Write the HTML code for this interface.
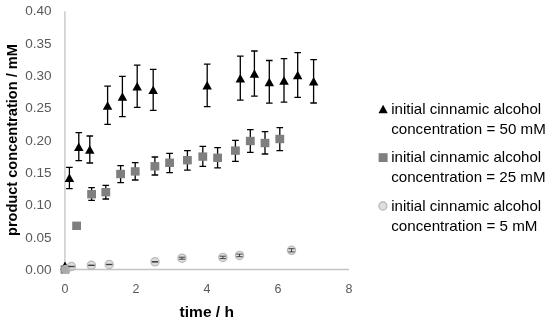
<!DOCTYPE html>
<html><head><meta charset="utf-8"><title>chart</title>
<style>
html,body{margin:0;padding:0;background:#fff}
svg{display:block}
text{font-family:"Liberation Sans",sans-serif}
</style></head><body>
<svg width="550" height="325" viewBox="0 0 550 325">
<rect width="550" height="325" fill="#fff"/>
<path d="M64.9 11.2V270M64.3 269.5H349" fill="none" stroke="#c4c4c4" stroke-width="1.3"/>
<g font-size="12.5" fill="#595959">
<text x="51.6" y="273.9" text-anchor="end" textLength="26.4" lengthAdjust="spacingAndGlyphs">0.00</text>
<text x="51.6" y="241.6" text-anchor="end" textLength="26.4" lengthAdjust="spacingAndGlyphs">0.05</text>
<text x="51.6" y="209.3" text-anchor="end" textLength="26.4" lengthAdjust="spacingAndGlyphs">0.10</text>
<text x="51.6" y="176.9" text-anchor="end" textLength="26.4" lengthAdjust="spacingAndGlyphs">0.15</text>
<text x="51.6" y="144.6" text-anchor="end" textLength="26.4" lengthAdjust="spacingAndGlyphs">0.20</text>
<text x="51.6" y="112.3" text-anchor="end" textLength="26.4" lengthAdjust="spacingAndGlyphs">0.25</text>
<text x="51.6" y="80.0" text-anchor="end" textLength="26.4" lengthAdjust="spacingAndGlyphs">0.30</text>
<text x="51.6" y="47.7" text-anchor="end" textLength="26.4" lengthAdjust="spacingAndGlyphs">0.35</text>
<text x="51.6" y="15.3" text-anchor="end" textLength="26.4" lengthAdjust="spacingAndGlyphs">0.40</text>
<text x="65.0" y="293.1" text-anchor="middle">0</text>
<text x="136.0" y="293.1" text-anchor="middle">2</text>
<text x="207.0" y="293.1" text-anchor="middle">4</text>
<text x="278.0" y="293.1" text-anchor="middle">6</text>
<text x="349.0" y="293.1" text-anchor="middle">8</text>
</g>
<text x="206.8" y="317" text-anchor="middle" font-size="14.6" font-weight="bold" fill="#000" textLength="54.4" lengthAdjust="spacingAndGlyphs">time / h</text>
<text transform="translate(16.6 140.1) rotate(-90)" text-anchor="middle" font-size="14.6" font-weight="bold" fill="#000" textLength="191.8" lengthAdjust="spacingAndGlyphs">product concentration / mM</text>
<g fill="none" stroke="#000" stroke-width="1.3">
<path d="M66.1 167.4H72.7M69.4 167.4V188.6M66.1 188.6H72.7"/>
<path d="M75.5 132.6H82.1M78.8 132.6V160.6M75.5 160.6H82.1"/>
<path d="M86.5 136.0H93.1M89.8 136.0V163.0M86.5 163.0H93.1"/>
<path d="M104.3 86.2H110.9M107.6 86.2V124.4M104.3 124.4H110.9"/>
<path d="M119.1 76.4H125.7M122.4 76.4V116.6M119.1 116.6H125.7"/>
<path d="M133.9 65.2H140.5M137.2 65.2V107.4M133.9 107.4H140.5"/>
<path d="M149.9 69.3H156.5M153.2 69.3V110.4M149.9 110.4H156.5"/>
<path d="M203.9 64.2H210.5M207.2 64.2V106.6M203.9 106.6H210.5"/>
<path d="M237.0 56.2H243.6M240.3 56.2V100.2M237.0 100.2H243.6"/>
<path d="M251.1 51.0H257.7M254.4 51.0V96.1M251.1 96.1H257.7"/>
<path d="M266.0 60.5H272.6M269.3 60.5V103.2M266.0 103.2H272.6"/>
<path d="M280.7 58.6H287.3M284.0 58.6V102.2M280.7 102.2H287.3"/>
<path d="M294.4 52.6H301.0M297.7 52.6V97.4M294.4 97.4H301.0"/>
<path d="M310.3 59.6H316.9M313.6 59.6V103.0M310.3 103.0H316.9"/>
<path d="M88.3 187.6H94.9M91.6 187.6V200.4M88.3 200.4H94.9"/>
<path d="M102.5 185.4H109.1M105.8 185.4V199.0M102.5 199.0H109.1"/>
<path d="M117.3 165.6H123.9M120.6 165.6V182.6M117.3 182.6H123.9"/>
<path d="M131.9 162.6H138.5M135.2 162.6V180.0M131.9 180.0H138.5"/>
<path d="M151.6 157.0H158.2M154.9 157.0V175.0M151.6 175.0H158.2"/>
<path d="M166.3 153.4H172.9M169.6 153.4V172.6M166.3 172.6H172.9"/>
<path d="M184.1 150.6H190.7M187.4 150.6V170.2M184.1 170.2H190.7"/>
<path d="M199.5 146.4H206.1M202.8 146.4V166.4M199.5 166.4H206.1"/>
<path d="M214.3 147.6H220.9M217.6 147.6V167.8M214.3 167.8H220.9"/>
<path d="M232.1 140.4H238.7M235.4 140.4V161.4M232.1 161.4H238.7"/>
<path d="M247.0 129.6H253.6M250.3 129.6V152.3M247.0 152.3H253.6"/>
<path d="M261.7 131.6H268.3M265.0 131.6V154.0M261.7 154.0H268.3"/>
<path d="M276.5 127.6H283.1M279.8 127.6V150.6M276.5 150.6H283.1"/>
</g>
<g fill="#000">
<path d="M65.0 261.6L69.8 270.1H60.2Z"/>
<path d="M69.4 173.6L74.2 182.1H64.7Z"/>
<path d="M78.8 142.4L83.5 150.9H74.0Z"/>
<path d="M89.8 145.2L94.5 153.7H85.0Z"/>
<path d="M107.6 101.2L112.3 109.7H102.8Z"/>
<path d="M122.4 92.2L127.2 100.7H117.7Z"/>
<path d="M137.2 82.0L141.9 90.5H132.4Z"/>
<path d="M153.2 85.6L157.9 94.1H148.4Z"/>
<path d="M207.2 81.0L211.9 89.5H202.4Z"/>
<path d="M240.3 74.1L245.1 82.6H235.6Z"/>
<path d="M254.4 69.2L259.1 77.7H249.7Z"/>
<path d="M269.3 77.8L274.1 86.3H264.6Z"/>
<path d="M284.0 76.3L288.8 84.8H279.2Z"/>
<path d="M297.7 70.8L302.4 79.3H292.9Z"/>
<path d="M313.6 77.1L318.4 85.6H308.9Z"/>
</g>
<g fill="#7f7f7f">
<rect x="60.6" y="265.3" width="8.8" height="8.4"/>
<rect x="72.2" y="221.6" width="8.8" height="8.4"/>
<rect x="87.2" y="190.0" width="8.8" height="8.4"/>
<rect x="101.4" y="188.0" width="8.8" height="8.4"/>
<rect x="116.2" y="169.8" width="8.8" height="8.4"/>
<rect x="130.8" y="167.2" width="8.8" height="8.4"/>
<rect x="150.5" y="162.1" width="8.8" height="8.4"/>
<rect x="165.2" y="158.6" width="8.8" height="8.4"/>
<rect x="183.0" y="156.0" width="8.8" height="8.4"/>
<rect x="198.4" y="152.4" width="8.8" height="8.4"/>
<rect x="213.2" y="153.6" width="8.8" height="8.4"/>
<rect x="231.0" y="146.4" width="8.8" height="8.4"/>
<rect x="245.9" y="136.8" width="8.8" height="8.4"/>
<rect x="260.6" y="138.8" width="8.8" height="8.4"/>
<rect x="275.4" y="134.8" width="8.8" height="8.4"/>
</g>
<g fill="#c8c8c8" fill-opacity="0.6" stroke="#b2b2b2" stroke-opacity="0.9" stroke-width="1.2">
<circle cx="66.0" cy="269.5" r="4.15"/>
<circle cx="71.4" cy="266.5" r="4.15"/>
<circle cx="91.4" cy="265.3" r="4.15"/>
<circle cx="109.2" cy="264.5" r="4.15"/>
<circle cx="155.0" cy="261.8" r="4.15"/>
<circle cx="182.0" cy="258.2" r="4.15"/>
<circle cx="222.9" cy="257.4" r="4.15"/>
<circle cx="239.5" cy="255.4" r="4.15"/>
<circle cx="291.5" cy="250.3" r="4.15"/>
</g>
<g fill="none" stroke="#333" stroke-width="0.9">
<path d="M68.3 266.3H74.5M71.4 266.3V266.7M68.3 266.7H74.5"/>
<path d="M88.3 265.1H94.5M91.4 265.1V265.5M88.3 265.5H94.5"/>
<path d="M106.1 264.3H112.3M109.2 264.3V264.7M106.1 264.7H112.3"/>
<path d="M151.9 261.6H158.1M155.0 261.6V262.1M151.9 262.1H158.1"/>
<path d="M178.9 257.2H185.1M182.0 257.2V259.2M178.9 259.2H185.1"/>
<path d="M219.8 256.2H226.0M222.9 256.2V258.6M219.8 258.6H226.0"/>
<path d="M236.4 254.1H242.6M239.5 254.1V256.7M236.4 256.7H242.6"/>
<path d="M288.4 248.7H294.6M291.5 248.7V251.9M288.4 251.9H294.6"/>
</g>
<path d="M383.1 104.8L387.7 113.2H378.5Z" fill="#000"/>
<rect x="378.6" y="153.2" width="9" height="8.8" fill="#7f7f7f"/>
<circle cx="382.9" cy="206" r="4.0" fill="#dedede" stroke="#b9b9b9" stroke-width="1.3"/>
<g font-size="14.5" fill="#000">
<text x="391.2" y="113.8" textLength="150" lengthAdjust="spacingAndGlyphs">initial cinnamic alcohol</text>
<text x="391.2" y="133.5" textLength="154.60000000000002" lengthAdjust="spacingAndGlyphs">concentration = 50 mM</text>
<text x="391.2" y="162.3" textLength="150" lengthAdjust="spacingAndGlyphs">initial cinnamic alcohol</text>
<text x="391.2" y="182.0" textLength="154.4" lengthAdjust="spacingAndGlyphs">concentration = 25 mM</text>
<text x="391.2" y="210.8" textLength="150" lengthAdjust="spacingAndGlyphs">initial cinnamic alcohol</text>
<text x="391.2" y="230.5" textLength="146.3" lengthAdjust="spacingAndGlyphs">concentration = 5 mM</text>
</g>
</svg>
</body></html>
